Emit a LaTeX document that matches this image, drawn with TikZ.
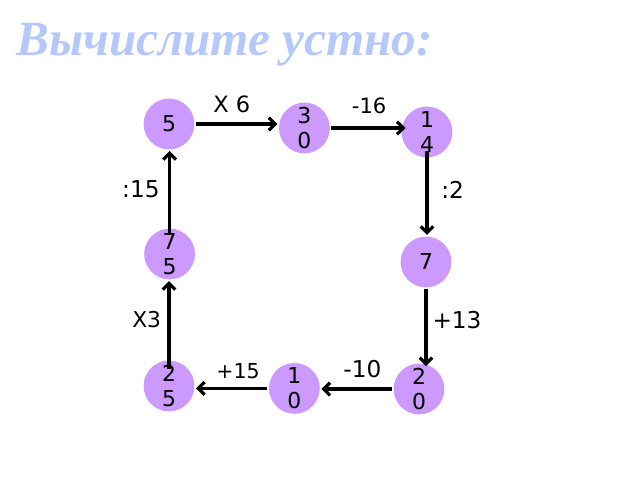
\documentclass[tikz,border=0pt]{standalone}
\usepackage{fontspec}
\setmainfont{DejaVu Sans}
\newfontfamily\titlefont{Liberation Serif}
\usetikzlibrary{arrows.meta,positioning}
\definecolor{lilac}{RGB}{204,153,255}
\definecolor{paleblue}{RGB}{180,200,250}

\begin{document}
\begin{tikzpicture}%
	[num/.style ={circle, fill=lilac, minimum size=1.27cm, inner sep=0pt, align=center, font=\fontsize{15.6}{17.7}\selectfont},
	el/.style = {inner sep=0pt, font=\fontsize{#1}{#1}\selectfont},
	>={Straight Barb[length=4.5pt,width=9pt]}, line width=2.3pt]
	\useasboundingbox (0,0) rectangle (16,12);
	\node[anchor=west, text=paleblue, font=\titlefont\bfseries\itshape\fontsize{35}{35}\selectfont] (title) at (0.25,10.88) {Вычислите устно:};
	
	\node[num] (s5) at (4.225,8.9) {5};
	\node[num] (s30) at (7.61,8.8) {3\\0};
	\node[num] (s14) at (10.675,8.7) {1\\4};
	\node[num] (s75) at (4.24,5.65) {7\\5};
	\node[num] (s7) at (10.65,5.45) {7};
	\node[num] (s25) at (4.225,2.35) {2\\5};
	\node[num] (s10) at (7.36,2.29) {1\\0};
	\node[num] (s20) at (10.475,2.275) {2\\0};
	
	\path[->] (s5) edge node[el=16, above=7pt, pos=0.44] {X 6} (s30.west |- s5);
	\path[->, shorten >=-4pt] (s30) edge node[el=15, above=9pt, pos=0.55] {-16} (s14.west |- s30);
	\path[->, shorten <=-6pt] (s14) edge node[el=16.5, right=9pt, pos=0.4] {:2} (s14 |- s7.north);
	\path[->, shorten >=-3pt] (s7) edge node[el=16.5, right=3.5pt, pos=0.43] {+13} (s7 |- s20.north);
	\path[->] (s20) edge node[el=16.5, above=7pt, pos=0.42] {-10} (s10.east |- s20);
	\path[->] (s10) edge node[el=14.6, above=5.5pt, pos=0.41] {+15} (s25.east |- s10);
	\path[->, shorten <=-7pt] (s25) edge node[el=15.5, left=4.5pt, pos=0.5] {X3} (s25 |- s75.south);
	\path[->, shorten <=-6pt] (s75) edge node[el=16.5, left=6pt] {:15} (s75 |- s5.south);
	
\end{tikzpicture}
\end{document}
